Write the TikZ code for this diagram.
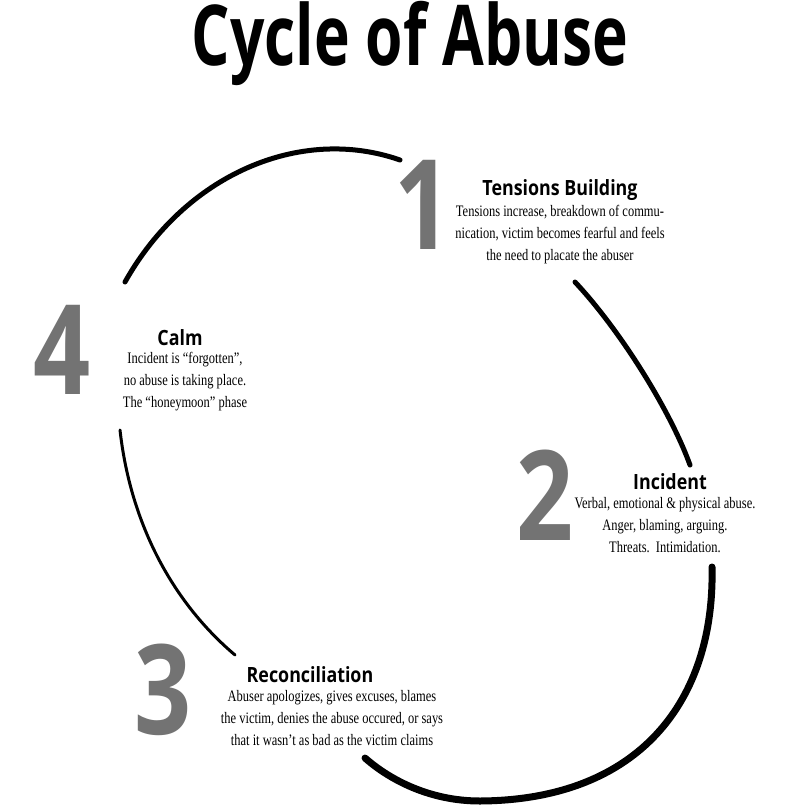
\documentclass[tikz,border=0pt]{standalone}
\usepackage{fontspec}
\setmainfont{Liberation Serif}
\newfontfamily\headfont{Open Sans}
\begin{document}
\begin{tikzpicture}[x=1pt,y=-1pt,
  num/.style={font=\headfont\bfseries\fontsize{125}{125}\selectfont,text=black!55,inner sep=0,xscale=0.8},
  head/.style={font=\headfont\bfseries\fontsize{21}{22}\selectfont,inner sep=0,xscale=0.85},
  body/.style={font=\fontsize{16}{22}\selectfont,align=center,inner sep=0,xscale=0.78},
  arc/.style={line width=5pt,line cap=round}]
\useasboundingbox[fill=white] (0,0) rectangle (804,805);
\node[font=\headfont\bfseries\fontsize{84}{84}\selectfont,inner sep=0,xscale=0.72] (title) at (410,43) {Cycle of Abuse};
\draw[arc] (125,282) .. controls (185,175) and (300,125) .. (400,160);
\draw[arc] (575,282) .. controls (620,330) and (670,410) .. (690,465);
\draw[arc,line width=7pt] (712,567) .. controls (715,700) and (640,800) .. (480,801) .. controls (430,801) and (390,780) .. (365,758);
\draw[line width=3pt,line cap=round] (120,430) .. controls (130,520) and (170,600) .. (235,655);
\node[num] (n1) at (423,205) {1};
\node[num] (n2) at (545,495) {2};
\node[num] (n3) at (163,690) {3};
\node[num] (n4) at (62,350) {4};
\node[head] (h1) at (560,190) {Tensions Building};
\node[body,anchor=north] (b1) at (560,205) {Tensions increase, breakdown of commu-\\nication, victim becomes fearful and feels\\the need to placate the abuser};
\node[head] (h4) at (180,338) {Calm};
\node[body,anchor=north] (b4) at (185,352) {Incident is ``forgotten'',\\no abuse is taking place.\\The ``honeymoon'' phase};
\node[head] (h2) at (670,482) {Incident};
\node[body,anchor=north] (b2) at (665,497) {Verbal, emotional \& physical abuse.\\Anger, blaming, arguing.\\Threats.\ \ Intimidation.};
\node[head] (h3) at (310,675) {Reconciliation};
\node[body,anchor=north] (b3) at (332,690) {Abuser apologizes, gives excuses, blames\\the victim, denies the abuse occured, or says\\that it wasn't as bad as the victim claims};
\end{tikzpicture}
\end{document}
